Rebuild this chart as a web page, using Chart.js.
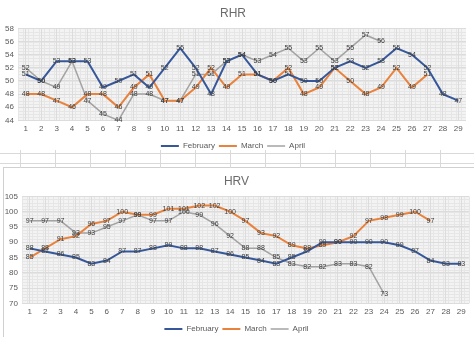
<!DOCTYPE html>
<html>
<head>
<meta charset="utf-8">
<script src="https://cdn.jsdelivr.net/npm/chart.js@4.4.1/dist/chart.umd.min.js"></script>
<style>
    html, body { margin: 0; padding: 0; background: #fff; }
    body { width: 474px; height: 337px; position: relative; overflow: hidden; }
    .line { position: absolute; background: #d9d9d9; }
    #rhrBox { position: absolute; left: 0; top: 0; width: 474px; height: 160px; }
    #hrvBox { position: absolute; left: 3px; top: 167px; width: 471px; height: 176px; background: #fff;
              border-left: 1px solid #d0d0d0; border-top: 1px solid #d0d0d0; box-sizing: border-box; }
</style>
</head>
<body>
<div id="sheet"></div>
<div id="rhrBox"><canvas id="rhrChart"></canvas></div>
<div id="hrvBox"><canvas id="hrvChart"></canvas></div>

<script>
// Day numbers on the x axis
const days = ['1','2','3','4','5','6','7','8','9','10','11','12','13','14','15',
              '16','17','18','19','20','21','22','23','24','25','26','27','28','29'];

// Resting heart rate
const rhrFebruary = [51, 50, 53, 53, 53, 49, 50, 51, 49, 52, 55, 52, 48, 53, 54,
                     51, 50, 51, 50, 50, 52, 53, 52, 53, 55, 54, 52, 48, 47];
const rhrMarch    = [48, 48, 47, 46, 48, 48, 46, 49, 51, 47, 47, 49, 52, 49, 51,
                     51, 50, 52, 48, 49, 52, 50, 48, 49, 52, 49, 51];
const rhrApril    = [52, 50, 49, 53, 47, 45, 44, 48, 48, 47, 47, 51, 51, 53, 54,
                     53, 54, 55, 53, 55, 53, 55, 57, 56];

// Heart rate variability
const hrvFebruary = [88, 87, 86, 85, 83, 84, 87, 87, 88, 89, 88, 88, 87, 86, 85,
                     84, 83, 85, 87, 90, 90, 90, 90, 90, 89, 87, 84, 83, 83];
const hrvMarch    = [85, 88, 91, 92, 96, 97, 100, 99, 99, 101, 101, 102, 102, 100, 97,
                     93, 92, 89, 88, 89, 90, 92, 97, 98, 99, 100, 97];
const hrvApril    = [97, 97, 97, 93, 93, 95, 97, 99, 97, 97, 100, 99, 96, 92, 88,
                     88, 85, 83, 82, 82, 83, 83, 82, 73];

const seriesNames = ['February', 'March', 'April'];
const seriesColors = ['#36589a', '#e8823d', '#a3a3a3'];

// spreadsheet cell lines between the two charts
function drawSheet() {
    const body = document.body;
    [153, 163].forEach(y => {
        const d = document.createElement('div');
        d.className = 'line';
        d.style.cssText = `left:0;top:${y}px;width:474px;height:1px`;
        body.appendChild(d);
    });
    for (let x = 20; x < 474; x += 35) {
        const d = document.createElement('div');
        d.className = 'line';
        d.style.cssText = `left:${x}px;top:150px;width:1px;height:18px`;
        body.appendChild(d);
    }
}

// Excel style patterned plot area
const plotBackground = {
    id: 'plotBackground',
    beforeDraw(chart, args, opts) {
        const { ctx, chartArea: a, scales } = chart;
        ctx.save();
        ctx.fillStyle = '#f3f3f3';
        ctx.fillRect(a.left, a.top, a.right - a.left, a.bottom - a.top);
        ctx.strokeStyle = '#e6e6e6';
        ctx.lineWidth = 1;
        const step = (a.right - a.left) / days.length / 3;
        for (let x = a.left; x <= a.right; x += step) {
            ctx.beginPath();
            ctx.moveTo(Math.round(x) + 0.5, a.top);
            ctx.lineTo(Math.round(x) + 0.5, a.bottom);
            ctx.stroke();
        }
        const ys = scales.y;
        for (let v = ys.min; v <= ys.max; v += opts.minor) {
            const y = Math.round(ys.getPixelForValue(v)) + 0.5;
            ctx.beginPath();
            ctx.moveTo(a.left, y);
            ctx.lineTo(a.right, y);
            ctx.stroke();
        }
        ctx.restore();
    }
};

// value labels centred on each point
const pointLabels = {
    id: 'pointLabels',
    afterDatasetsDraw(chart) {
        const ctx = chart.ctx;
        ctx.save();
        ctx.font = '7px "Liberation Sans", Arial, sans-serif';
        ctx.fillStyle = '#404040';
        ctx.textAlign = 'center';
        ctx.textBaseline = 'middle';
        chart.data.datasets.forEach((ds, i) => {
            const meta = chart.getDatasetMeta(i);
            meta.data.forEach((pt, j) => {
                ctx.fillText(ds.data[j], pt.x, pt.y);
            });
        });
        ctx.restore();
    }
};

function makeChart(canvasId, title, values, yMin, yMax, yStep, minor, axisWidth, rightPad, legendPad) {
    const ctx = document.getElementById(canvasId).getContext('2d');
    return new Chart(ctx, {
        type: 'line',
        data: {
            labels: days,
            datasets: values.map((data, i) => ({
                label: seriesNames[i],
                data: data,
                borderColor: seriesColors[i],
                backgroundColor: seriesColors[i],
                borderWidth: i === 2 ? 1.5 : 2,
                pointRadius: 0,
                tension: 0,
                fill: false
            }))
        },
        options: {
            responsive: true,
            maintainAspectRatio: false,
            animation: false,
            layout: { padding: { left: 0, right: rightPad, top: 0, bottom: 0 } },
            plugins: {
                plotBackground: { minor: minor },
                title: {
                    display: true,
                    text: title,
                    color: '#6b6b6b',
                    font: { family: '"Liberation Sans", Arial, sans-serif', size: 12, weight: 'normal' },
                    padding: { top: 6, bottom: 8 }
                },
                legend: {
                    position: 'bottom',
                    labels: {
                        usePointStyle: true,
                        pointStyle: 'line',
                        pointStyleWidth: 18,
                        color: '#595959',
                        font: { family: '"Liberation Sans", Arial, sans-serif', size: 8 },
                        padding: legendPad
                    }
                },
                tooltip: { enabled: false }
            },
            scales: {
                x: {
                    offset: true,
                    grid: { color: '#dcdcdc', drawTicks: false },
                    border: { display: false },
                    ticks: {
                        color: '#595959',
                        font: { family: '"Liberation Sans", Arial, sans-serif', size: 8 },
                        padding: 4,
                        maxRotation: 0,
                        autoSkip: false
                    }
                },
                y: {
                    min: yMin,
                    max: yMax,
                    grid: { color: '#dcdcdc', drawTicks: false },
                    border: { display: false },
                    ticks: {
                        stepSize: yStep,
                        autoSkip: false,
                        color: '#595959',
                        font: { family: '"Liberation Sans", Arial, sans-serif', size: 8 },
                        padding: 4
                    },
                    afterFit(scale) { scale.width = axisWidth; }
                }
            }
        },
        plugins: [plotBackground, pointLabels]
    });
}

drawSheet();
makeChart('rhrChart', 'RHR', [rhrFebruary, rhrMarch, rhrApril], 44, 58, 2, 0.5, 18, 8, 4);
makeChart('hrvChart', 'HRV', [hrvFebruary, hrvMarch, hrvApril], 70, 105, 5, 1, 18, 5, 4);
</script>
</body>
</html>
